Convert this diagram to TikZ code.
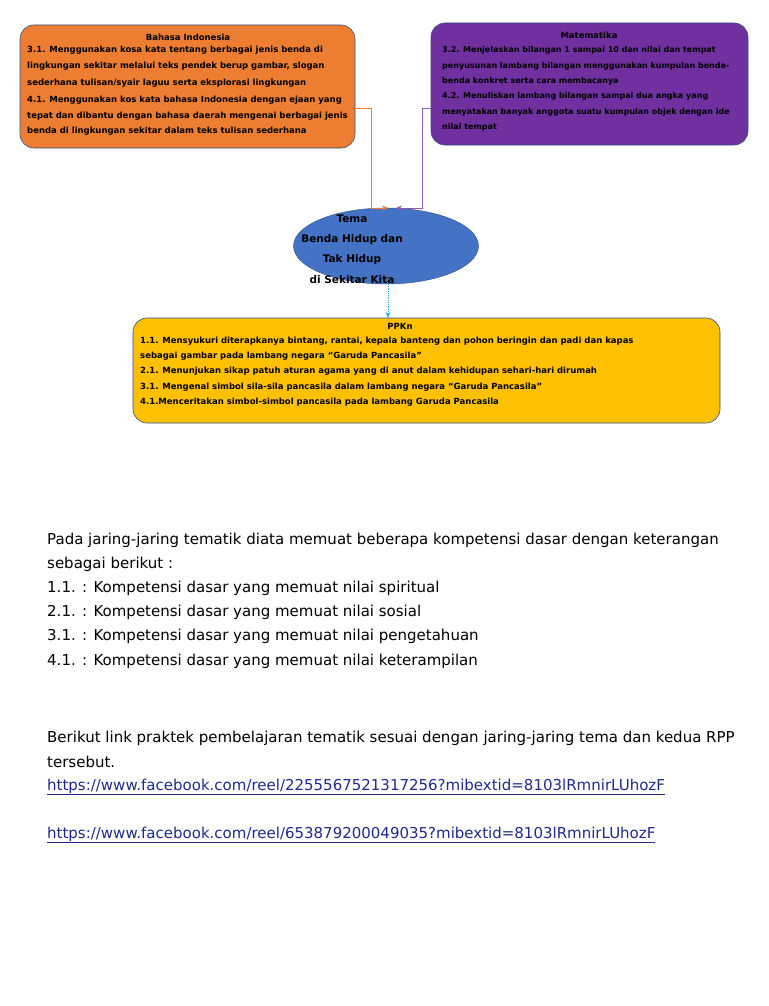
\documentclass[tikz,border=0pt]{standalone}
\usepackage{fontspec}
\setmainfont{DejaVu Sans}
\usetikzlibrary{arrows.meta,shapes.geometric}
\definecolor{oran}{HTML}{ED7D31}
\definecolor{purp}{HTML}{7030A0}
\definecolor{blu}{HTML}{4472C4}
\definecolor{yel}{HTML}{FFC000}
\definecolor{lnk}{HTML}{1F2A8C}
\tikzset{
 box/.style={draw=blu!70!black, line width=0.6pt, rounded corners=14pt},
 sm/.style={anchor=west, inner sep=0pt, font=\fontsize{8.5}{9}\selectfont\bfseries, text=black},
 smp/.style={anchor=west, inner sep=0pt, font=\fontsize{8}{9}\selectfont\bfseries, text=black},
 smc/.style={inner sep=0pt, font=\fontsize{8.5}{9}\selectfont\bfseries, text=black},
 big/.style={anchor=west, inner sep=0pt, font=\fontsize{15}{17}\selectfont, text=black},
 lk/.style={anchor=west, inner sep=0pt, font=\fontsize{15}{17}\selectfont, text=lnk},
 conn/.style={line width=0.8pt, -{Stealth[length=6pt,width=5pt]}}
}
\begin{document}
\begin{tikzpicture}[x=1pt,y=-1pt]
\useasboundingbox[fill=white] (0,0) rectangle (768,1006);
% boxes
\filldraw[box, fill=oran] (20,25) rectangle (355,148);
\coordinate (oA) at (355,108);
\filldraw[box, fill=purp] (431,23) rectangle (748,145);
\coordinate (pA) at (431,108);
\filldraw[box, fill=yel] (133,318) rectangle (720,423);
\coordinate (yT) at (388,318);
\node[draw=blu!70!black, fill=blu, ellipse, minimum width=185pt, minimum height=76pt, inner sep=0pt] (el) at (386,246) {};
\coordinate (eT1) at (388,208);
\coordinate (eT2) at (396,208);
\coordinate (eB) at (388,284);
% connectors
\draw[conn, oran] (oA) -| (371,208) -- (eT1);
\draw[conn, purp!80!white] (pA) -| (422,208) -- (eT2);
\draw[conn, blu!60!cyan, densely dotted] (eB) -- (yT);
% ellipse text
\foreach \t/\y in {Tema/219, Benda Hidup dan/240, Tak Hidup/260, di Sekitar Kita/280}
 \node[inner sep=0pt, font=\fontsize{10.5}{12}\selectfont\bfseries] at (352,\y) {\t};
% orange text
\node[smc] at (188,37) {Bahasa Indonesia};
\node[sm] at (27,50) {3.1. Menggunakan kosa kata tentang berbagai jenis benda di};
\node[sm] at (27,66) {lingkungan sekitar melalui teks pendek berup gambar, slogan};
\node[sm] at (27,83) {sederhana tulisan/syair laguu serta eksplorasi lingkungan};
\node[sm] at (27,100) {4.1. Menggunakan kos kata bahasa Indonesia dengan ejaan yang};
\node[sm] at (27,116) {tepat dan dibantu dengan bahasa daerah mengenai berbagai jenis};
\node[sm] at (27,131) {benda di lingkungan sekitar dalam teks tulisan sederhana};
% purple text
\node[smc] at (589,35) {Matematika};
\node[smp] at (442,50) {3.2. Menjelaskan bilangan 1 sampai 10 dan nilai dan tempat};
\node[smp] at (442,66) {penyusunan lambang bilangan menggunakan kumpulan benda-};
\node[smp] at (442,81) {benda konkret serta cara membacanya};
\node[smp] at (442,96) {4.2. Menuliskan lambang bilangan sampai dua angka yang};
\node[smp] at (442,112) {menyatakan banyak anggota suatu kumpulan objek dengan ide};
\node[smp] at (442,127) {nilai tempat};
% yellow text
\node[smc] at (400,326) {PPKn};
\node[sm] at (140,341) {1.1. Mensyukuri diterapkanya bintang, rantai, kepala banteng dan pohon beringin dan padi dan kapas};
\node[sm] at (140,356) {sebagai gambar pada lambang negara “Garuda Pancasila”};
\node[sm] at (140,371) {2.1. Menunjukan sikap patuh aturan agama yang di anut dalam kehidupan sehari-hari dirumah};
\node[sm] at (140,387) {3.1. Mengenal simbol sila-sila pancasila dalam lambang negara “Garuda Pancasila”};
\node[sm] at (140,402) {4.1.Menceritakan simbol-simbol pancasila pada lambang Garuda Pancasila};
% body text
\node[big] at (47,540) {Pada jaring-jaring tematik diata memuat beberapa kompetensi dasar dengan keterangan};
\node[big] at (47,564) {sebagai berikut :};
\node[big] at (47,588) {1.1. : Kompetensi dasar yang memuat nilai spiritual};
\node[big] at (47,612) {2.1. : Kompetensi dasar yang memuat nilai sosial};
\node[big] at (47,636) {3.1. : Kompetensi dasar yang memuat nilai pengetahuan};
\node[big] at (47,661) {4.1. : Kompetensi dasar yang memuat nilai keterampilan};
\node[big] at (47,738) {Berikut link praktek pembelajaran tematik sesuai dengan jaring-jaring tema dan kedua RPP};
\node[big] at (47,762) {tersebut.};
\node[lk] at (47,787) {\underline{https://www.facebook.com/reel/2255567521317256?mibextid=8103lRmnirLUhozF}};
\node[lk] at (47,835) {\underline{https://www.facebook.com/reel/653879200049035?mibextid=8103lRmnirLUhozF}};
\end{tikzpicture}
\end{document}
